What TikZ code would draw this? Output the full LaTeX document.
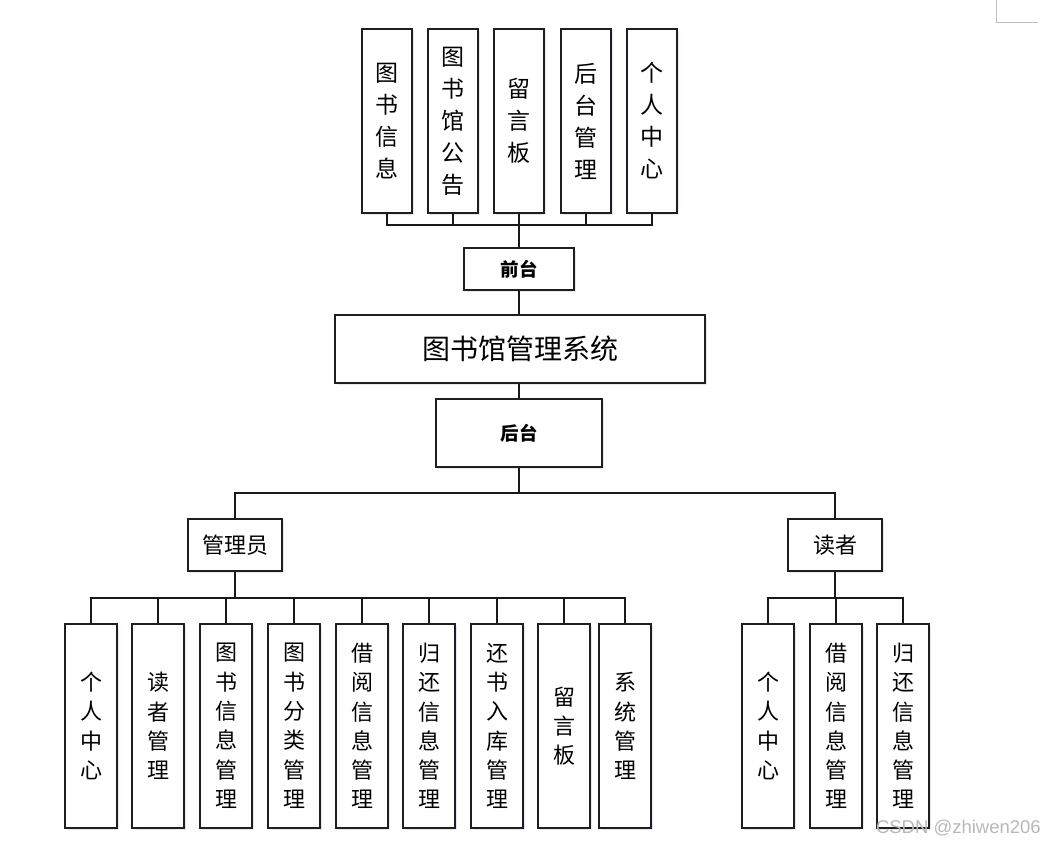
\documentclass[tikz,border=0pt]{standalone}
\usepackage{fontspec}
\setmainfont{Noto Sans CJK SC}
\newfontfamily\wmfont{Liberation Sans}
\usetikzlibrary{shadows}
\begin{document}
\begin{tikzpicture}[x=1pt,y=-1pt,
  box/.style={draw=black!88, line width=2pt, fill=white, inner sep=0pt, anchor=center,
     drop shadow={shadow xshift=2pt, shadow yshift=-2pt, opacity=0.12, fill=blue!50!gray}},
  topbox/.style={box, minimum width=50pt, minimum height=184pt, align=center,
     font=\fontsize{23}{32}\selectfont},
  botbox/.style={box, minimum width=52pt, minimum height=204pt, align=center,
     font=\fontsize{22}{29.3}\selectfont},
  conn/.style={draw=black!90, line width=2pt}]
\useasboundingbox (0,0) rectangle (1045,845);
\fill[white] (0,0) rectangle (1045,845);
% page corner mark
\draw[black!25, line width=1pt] (996.5,0) -- (996.5,22.5) -- (1038,22.5);

% top row
\node[topbox] (t1) at (387,121) {图\\书\\信\\息};
\node[topbox] (t2) at (453,121) {图\\书\\馆\\公\\告};
\node[topbox] (t3) at (519,121) {留\\言\\板};
\node[topbox] (t4) at (586,121) {后\\台\\管\\理};
\node[topbox] (t5) at (652,121) {个\\人\\中\\心};

\node[box, minimum width=110pt, minimum height=42pt, font=\fontsize{18.5}{20}\selectfont\bfseries] (qt) at (519,269) {前台};
\node[box, minimum width=370pt, minimum height=68pt, font=\fontsize{28}{30}\selectfont] (sys) at (520,349) {图书馆管理系统};
\node[box, minimum width=166pt, minimum height=68pt, font=\fontsize{18.5}{20}\selectfont\bfseries] (ht) at (519,433) {后台};

\coordinate (busTop) at (519,225);
\coordinate (busMid) at (519,493);

\node[box, minimum width=94pt, minimum height=52pt, font=\fontsize{22}{24}\selectfont] (gly) at (235,545) {管理员};
\node[box, minimum width=94pt, minimum height=52pt, font=\fontsize{22}{24}\selectfont] (dz) at (835,545) {读者};

\coordinate (busA) at (235,598);
\coordinate (busR) at (835,598);

% admin children
\node[botbox] (a1) at (91,726) {个\\人\\中\\心};
\node[botbox] (a2) at (158,726) {读\\者\\管\\理};
\node[botbox] (a3) at (226,726) {图\\书\\信\\息\\管\\理};
\node[botbox] (a4) at (294,726) {图\\书\\分\\类\\管\\理};
\node[botbox] (a5) at (362,726) {借\\阅\\信\\息\\管\\理};
\node[botbox] (a6) at (429,726) {归\\还\\信\\息\\管\\理};
\node[botbox] (a7) at (497,726) {还\\书\\入\\库\\管\\理};
\node[botbox] (a8) at (564,726) {留\\言\\板};
\node[botbox] (a9) at (625,726) {系\\统\\管\\理};

% reader children
\node[botbox] (r1) at (768,726) {个\\人\\中\\心};
\node[botbox] (r2) at (836,726) {借\\阅\\信\\息\\管\\理};
\node[botbox] (r3) at (903,726) {归\\还\\信\\息\\管\\理};

% connectors top
\draw[conn] (t1.south) -- (t1.south |- busTop) -- (t5.south |- busTop) -- (t5.south);
\foreach \n in {t2,t3,t4} \draw[conn] (\n.south) -- (\n.south |- busTop);
\draw[conn] (busTop) -- (qt.north);
\draw[conn] (qt.south) -- (qt.south |- sys.north);
\draw[conn] (ht.north |- sys.south) -- (ht.north);
\draw[conn] (ht.south) -- (ht.south |- busMid);
\draw[conn] (gly.north) -- (gly.north |- busMid) -- (dz.north |- busMid) -- (dz.north);

% admin bus
\draw[conn] (gly.south) -- (busA);
\draw[conn] (a1.north) -- (a1.north |- busA) -- (a9.north |- busA) -- (a9.north);
\foreach \n in {a2,a3,a4,a5,a6,a7,a8} \draw[conn] (\n.north) -- (\n.north |- busA);

% reader bus
\draw[conn] (dz.south) -- (busR);
\draw[conn] (r1.north) -- (r1.north |- busR) -- (r3.north |- busR) -- (r3.north);
\draw[conn] (r2.north) -- (r2.north |- busR);

% watermark
\node[anchor=east, text=black!28, font=\wmfont\fontsize{18.5}{20}\selectfont, inner sep=0pt] (wm) at (1041,828) {CSDN @zhiwen206};
\end{tikzpicture}
\end{document}
